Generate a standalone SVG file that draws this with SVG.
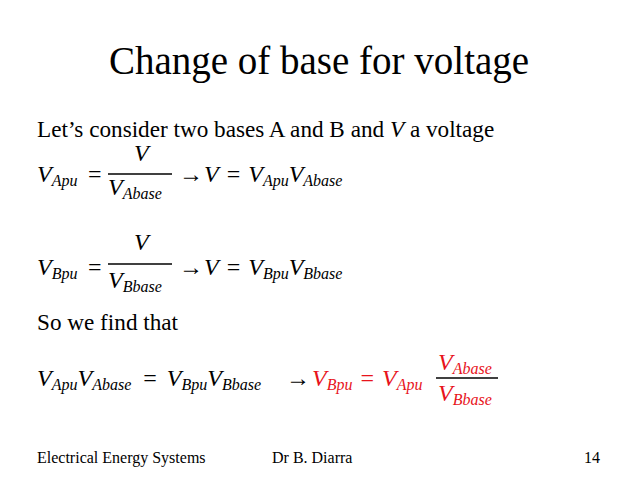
<svg xmlns="http://www.w3.org/2000/svg" width="638" height="478" viewBox="0 0 638 478">
<style>
.t{font-family:"Liberation Serif",serif;fill:#000}
.m{font-family:"Liberation Serif",serif;font-style:italic;font-size:24px;fill:#000}
.n{font-style:normal}
.s{font-size:16px}
.r{fill:#e8141c}
.ln{stroke:#000;stroke-width:1.3}
</style>
<rect width="638" height="478" fill="#fff"/>
<text class="t" x="319" y="74" font-size="39" text-anchor="middle">Change of base for voltage</text>
<text class="t" x="37" y="137" font-size="23.2">Let’s consider two bases A and B and <tspan font-style="italic">V</tspan> a voltage</text>
<g id="eq1">
<text class="m" x="37" y="182">V<tspan class="s" dy="4">Apu</tspan></text>
<text class="m n" x="88" y="182">=</text>
<text class="m" x="134" y="161">V</text>
<line class="ln" x1="108" y1="174" x2="172" y2="174"/>
<text class="m" x="108" y="195">V<tspan class="s" dy="4">Abase</tspan></text>
<text class="m n" x="179" y="182">→</text>
<text class="m" x="204" y="182">V<tspan class="n" dx="8">=</tspan><tspan dx="8">V</tspan><tspan class="s" dy="4">Apu</tspan><tspan dy="-4">V</tspan><tspan class="s" dy="4">Abase</tspan></text>
</g>
<g id="eq2">
<text class="m" x="37" y="275">V<tspan class="s" dy="4">Bpu</tspan></text>
<text class="m n" x="88" y="275">=</text>
<text class="m" x="134" y="250">V</text>
<line class="ln" x1="108" y1="264" x2="172" y2="264"/>
<text class="m" x="108" y="288">V<tspan class="s" dy="4">Bbase</tspan></text>
<text class="m n" x="179" y="275">→</text>
<text class="m" x="204" y="275">V<tspan class="n" dx="8">=</tspan><tspan dx="8">V</tspan><tspan class="s" dy="4">Bpu</tspan><tspan dy="-4">V</tspan><tspan class="s" dy="4">Bbase</tspan></text>
</g>
<text class="t" x="37" y="330" font-size="23.2">So we find that</text>
<g id="eq3">
<text class="m" x="37" y="386">V<tspan class="s" dy="4">Apu</tspan><tspan dy="-4">V</tspan><tspan class="s" dy="4">Abase</tspan><tspan dy="-4" class="n" dx="12">=</tspan><tspan dx="10">V</tspan><tspan class="s" dy="4">Bpu</tspan><tspan dy="-4">V</tspan><tspan class="s" dy="4">Bbase</tspan></text>
<text class="m n" x="286" y="386">→</text>
<text class="m r" x="312" y="386">V<tspan class="s" dy="4">Bpu</tspan><tspan dy="-4" class="n" dx="8">=</tspan><tspan dx="8">V</tspan><tspan class="s" dy="4">Apu</tspan></text>
<text class="m r" x="438" y="370">V<tspan class="s" dy="4">Abase</tspan></text>
<line class="ln" x1="436" y1="378" x2="498" y2="378" stroke="#e8141c"/>
<text class="m r" x="438" y="401">V<tspan class="s" dy="4">Bbase</tspan></text>
</g>
<text class="t" x="37" y="463" font-size="16">Electrical Energy Systems</text>
<text class="t" x="272" y="463" font-size="16">Dr B. Diarra</text>
<text class="t" x="584" y="463" font-size="16">14</text>
</svg>
